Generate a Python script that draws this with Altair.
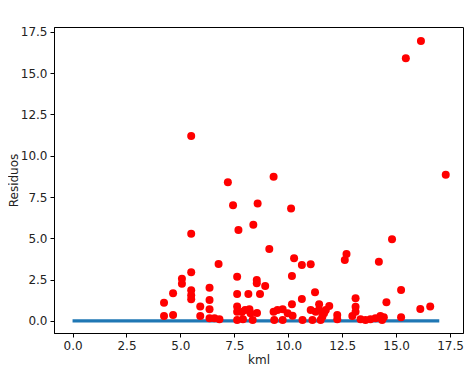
import altair as alt
import pandas as pd

resid_x = [17.30, 16.15, 15.45, 5.50, 7.20, 7.44, 8.58, 8.38, 7.69, 5.50,
           9.32, 10.13, 14.81, 9.12, 4.24, 4.24, 4.66, 4.66, 5.07, 5.07,
           5.50, 5.50, 5.50, 5.50, 5.92, 5.92, 6.35, 6.35, 6.35, 6.35,
           6.58, 6.81, 6.77, 7.63, 7.63, 7.63, 7.63, 7.63, 10.27, 10.63,
           11.04, 10.17, 8.54, 8.54, 8.93, 8.15, 8.69, 11.24, 10.63, 10.17,
           11.43, 7.85, 8.00, 8.20, 8.25, 8.55, 8.35, 7.90, 9.32, 9.50,
           9.74, 9.97, 9.35, 9.74, 10.66, 10.20, 11.04, 11.27, 11.43, 11.12,
           11.50, 12.70, 12.62, 14.20, 15.23, 14.55, 13.12, 13.12, 13.12, 11.90,
           11.74, 11.66, 11.58, 12.27, 12.27, 12.97, 13.35, 13.58, 13.81, 14.04,
           14.27, 14.35, 14.43, 15.23, 16.12, 16.58]
resid_y = [8.85, 16.95, 15.90, 11.20, 8.40, 7.00, 7.10, 5.82, 5.50, 5.28,
           8.72, 6.80, 4.94, 4.35, 1.10, 0.29, 1.67, 0.35, 2.55, 2.25,
           2.94, 1.85, 1.55, 1.30, 0.86, 0.29, 2.00, 1.26, 0.70, 0.15,
           0.15, 0.10, 3.44, 2.67, 1.62, 0.86, 0.55, 0.05, 3.79, 3.38,
           3.42, 2.72, 2.47, 2.27, 2.11, 1.62, 1.62, 1.73, 1.32, 1.00,
           1.00, 0.53, 0.65, 0.70, 0.45, 0.47, 0.05, 0.10, 0.55, 0.65,
           0.70, 0.45, 0.05, 0.05, 0.05, 0.30, 0.65, 0.55, 0.65, 0.05,
           0.05, 4.05, 3.68, 3.58, 1.87, 1.12, 1.36, 0.85, 0.55, 0.90,
           0.65, 0.45, 0.25, 0.35, 0.09, 0.29, 0.10, 0.05, 0.09, 0.15,
           0.29, 0.05, 0.21, 0.21, 0.71, 0.86]

line_x = [0.0, 17.0]
line_y = [0.0, 0.0]

tick_vals = [0.0, 2.5, 5.0, 7.5, 10.0, 12.5, 15.0, 17.5]

pts = pd.DataFrame({"kml": resid_x, "Residuos": resid_y})
ln = pd.DataFrame({"kml": line_x, "Residuos": line_y})

xscale = alt.Scale(domain=[-0.86, 18.1], nice=False, zero=False)
yscale = alt.Scale(domain=[-0.74, 17.8], nice=False, zero=False)

xaxis = alt.Axis(title="kml", values=tick_vals, format=".1f", grid=False,
                 tickSize=4, labelPadding=3, titlePadding=3, labelOverlap=False)
yaxis = alt.Axis(title="Residuos", values=tick_vals, format=".1f", grid=False,
                 tickSize=4, labelPadding=3, titlePadding=0, labelOverlap=False)

line = alt.Chart(ln).mark_line(color="#1f77b4", strokeWidth=3.3).encode(
    x=alt.X("kml:Q", scale=xscale, axis=xaxis),
    y=alt.Y("Residuos:Q", scale=yscale, axis=yaxis),
)

points = alt.Chart(pts).mark_circle(color="#ff0000", size=64, opacity=1).encode(
    x=alt.X("kml:Q", scale=xscale, axis=xaxis),
    y=alt.Y("Residuos:Q", scale=yscale, axis=yaxis),
)

chart = alt.layer(line, points).properties(
    width=409, height=306,
    padding={"left": 46, "top": 19, "right": 3, "bottom": 36},
    autosize=alt.AutoSizeParams(type="none"),
).configure_view(
    stroke="black", strokeWidth=1
).configure_axis(
    domainColor="black", tickColor="black", labelColor="#222222", titleColor="#222222",
    labelFont="DejaVu Sans", titleFont="DejaVu Sans", labelFontSize=12,
    titleFontSize=12, titleFontWeight="normal", domainWidth=1, tickWidth=1,
)

chart.save("out.html", embed_options={"renderer": "svg", "actions": False})
